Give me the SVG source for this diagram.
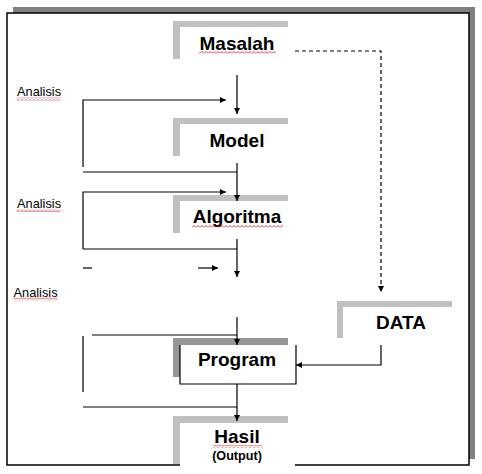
<svg xmlns="http://www.w3.org/2000/svg" width="482" height="474" viewBox="0 0 482 474">
<style>
.title{font-family:"Liberation Sans",Arial,sans-serif;font-weight:bold;font-size:19px;fill:#000;text-anchor:middle}
.lbl{font-family:"Liberation Sans",Arial,sans-serif;font-size:12.8px;fill:#000}
.sub{font-family:"Liberation Sans",Arial,sans-serif;font-weight:bold;font-size:12.6px;fill:#000;text-anchor:middle}
.sh{fill:#c0c0c0}
.sh2{fill:#969696}
.ln{fill:none;stroke:#000;stroke-width:1.2}
.dash{stroke-dasharray:4 3}
.sq{fill:url(#squig)}
</style>
<defs>
<marker id="arr" viewBox="0 0 6 6" refX="6" refY="3" markerWidth="6" markerHeight="6" markerUnits="userSpaceOnUse" orient="auto">
<path d="M0,0 L6,3 L0,6 z" fill="#000"/>
</marker>
<pattern id="squig" x="0" y="0" width="4" height="3" patternUnits="userSpaceOnUse">
<path d="M0,2.5 L2,0.5 L4,2.5" fill="none" stroke="#e00000" stroke-width="0.8"/>
</pattern>
</defs>
<g id="frame">
<rect x="13" y="7" width="462" height="452" fill="#808080"/>
<rect x="7" y="13" width="462" height="452" fill="#fff" stroke="#000" stroke-width="1.5"/>
</g>
<g id="labels">
<text class="lbl" x="17" y="96">Analisis</text>
<rect class="sq" x="17" y="97.5" width="44" height="3"/>
<text class="lbl" x="17" y="208">Analisis</text>
<rect class="sq" x="17" y="209" width="44" height="3"/>
<text class="lbl" x="13.5" y="296.5">Analisis</text>
<rect class="sq" x="13.5" y="297.5" width="44" height="3"/>
</g>
<g id="masalah">
<rect class="sh" x="173" y="21" width="115" height="6"/>
<rect class="sh" x="173" y="21" width="7" height="38"/>
<text class="title" x="237" y="50">Masalah</text>
<rect class="sq" x="199" y="51" width="77" height="3"/>
</g>
<g id="model">
<rect class="sh" x="173" y="118" width="115" height="6"/>
<rect class="sh" x="173" y="118" width="7" height="38"/>
<text class="title" x="237" y="147">Model</text>
</g>
<g id="algoritma">
<rect class="sh" x="173" y="195" width="115" height="6"/>
<rect class="sh" x="173" y="195" width="7" height="38"/>
<text class="title" x="237" y="223">Algoritma</text>
<rect class="sq" x="192" y="225" width="91" height="3"/>
</g>
<g id="data">
<rect class="sh" x="337" y="301" width="115" height="6"/>
<rect class="sh" x="337" y="301" width="6" height="37"/>
<text class="title" x="401" y="329">DATA</text>
</g>
<g id="program">
<rect class="sh2" x="173" y="338" width="115" height="7"/>
<rect class="sh2" x="173" y="338" width="7" height="39"/>
<path class="ln" d="M180,345 V384 H296 V345"/>
<text class="title" x="237" y="366">Program</text>
</g>
<g id="hasil">
<rect x="180" y="422" width="115" height="52" fill="#fff"/>
<rect class="sh" x="173" y="416" width="115" height="7"/>
<rect class="sh" x="173" y="416" width="7" height="48"/>
<text class="title" x="237" y="443">Hasil</text>
<rect class="sq" x="213" y="445" width="49" height="3"/>
<text class="sub" x="237" y="460">(Output)</text>
</g>
<g id="connectors">
<path class="ln" d="M237,75 V114" marker-end="url(#arr)"/>
<path class="ln" d="M83,167 V100 H226" marker-end="url(#arr)"/>
<path class="ln" d="M83,172 H237"/>
<path class="ln" d="M237,163 V201" marker-end="url(#arr)"/>
<path class="ln" d="M83,249 V192 H226" marker-end="url(#arr)"/>
<path class="ln" d="M83,249 H237"/>
<path class="ln" d="M237,239 V277" marker-end="url(#arr)"/>
<path class="ln" d="M83,268 H92"/>
<path class="ln" d="M198,268 H218" marker-end="url(#arr)"/>
<path class="ln" d="M237,317 V345" marker-end="url(#arr)"/>
<path class="ln" d="M92,335 H237"/>
<path class="ln" d="M83,336 V392"/>
<path class="ln" d="M237,384 V421" marker-end="url(#arr)"/>
<path class="ln" d="M83,407 H237"/>
<path class="ln dash" d="M295,51 H381 V292" marker-end="url(#arr)"/>
<path class="ln" d="M381,345 V365 H296" marker-end="url(#arr)"/>
</g>
</svg>
